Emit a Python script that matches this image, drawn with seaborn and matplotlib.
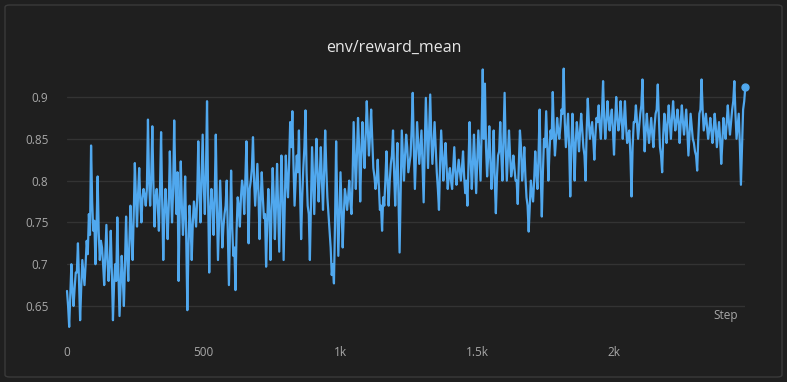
import numpy as np
import pandas as pd
import matplotlib
matplotlib.use("Agg")
import matplotlib.pyplot as plt
from matplotlib.patches import FancyBboxPatch
import seaborn as sns

# ---- data ----
# peaks/troughs sampled every 8 steps (steps 0, 8, 16, ...)
step_interval = 8
reward_part1 = [
    0.668, 0.625, 0.700, 0.650, 0.690, 0.725, 0.633, 0.705, 0.675, 0.728,
    0.760, 0.842, 0.740, 0.700, 0.805, 0.705, 0.720, 0.675, 0.747, 0.680,
    0.740, 0.633, 0.700, 0.756, 0.638, 0.710, 0.650, 0.757, 0.680, 0.770,
    0.705, 0.821, 0.745, 0.815, 0.750, 0.790, 0.770, 0.873, 0.770, 0.865,
    0.745, 0.790, 0.740, 0.858, 0.705, 0.790, 0.730, 0.835, 0.750, 0.872,
    0.760, 0.680,
]
reward_part2 = [
    0.823, 0.735, 0.805, 0.645, 0.770, 0.705, 0.775, 0.745, 0.847, 0.750,
    0.855, 0.760, 0.895, 0.690, 0.790, 0.735, 0.855, 0.705, 0.800, 0.720,
    0.760, 0.800, 0.675, 0.812, 0.710, 0.669, 0.780, 0.745, 0.800, 0.760,
    0.847, 0.725, 0.800, 0.852, 0.770, 0.820, 0.730, 0.810, 0.755, 0.697,
    0.790, 0.705, 0.815, 0.730, 0.820, 0.715, 0.830, 0.705, 0.830, 0.780,
    0.870, 0.883,
]
reward_part3 = [
    0.770, 0.830, 0.860, 0.730, 0.815, 0.884, 0.770, 0.705, 0.840, 0.760,
    0.850, 0.775, 0.840, 0.765, 0.860, 0.780, 0.740, 0.687, 0.677, 0.847,
    0.710, 0.810, 0.720, 0.790, 0.765, 0.800, 0.760, 0.870, 0.790, 0.875,
    0.775, 0.870, 0.815, 0.895, 0.830, 0.885, 0.815, 0.790, 0.825, 0.765,
    0.740, 0.770, 0.835, 0.770, 0.820, 0.860, 0.770, 0.845, 0.714, 0.860,
    0.800, 0.855,
]
reward_part4 = [
    0.810, 0.830, 0.905, 0.790, 0.870, 0.820, 0.860, 0.774, 0.899, 0.815,
    0.903, 0.820, 0.870, 0.810, 0.765, 0.860, 0.800, 0.845, 0.790, 0.815,
    0.790, 0.840, 0.795, 0.825, 0.800, 0.835, 0.785, 0.770, 0.870, 0.790,
    0.855, 0.785, 0.860, 0.800, 0.933, 0.916, 0.805, 0.865, 0.790, 0.860,
    0.761, 0.830, 0.870, 0.800, 0.905, 0.800, 0.860, 0.805, 0.830, 0.800,
    0.772, 0.860,
]
reward_part5 = [
    0.800, 0.840, 0.780, 0.739, 0.800, 0.775, 0.835, 0.790, 0.885, 0.757,
    0.850, 0.883, 0.800, 0.860, 0.906, 0.830, 0.875, 0.850, 0.885, 0.934,
    0.840, 0.880, 0.781, 0.880, 0.800, 0.870, 0.835, 0.880, 0.840, 0.800,
    0.898, 0.850, 0.870, 0.825, 0.875, 0.890, 0.850, 0.919, 0.850, 0.895,
    0.860, 0.885, 0.831, 0.900, 0.860, 0.895, 0.850, 0.895, 0.845, 0.860,
    0.781, 0.870,
]
reward_part6 = [
    0.890, 0.850, 0.880, 0.921, 0.835, 0.880, 0.845, 0.875, 0.840, 0.880,
    0.915, 0.840, 0.810, 0.880, 0.845, 0.890, 0.850, 0.895, 0.860, 0.885,
    0.845, 0.890, 0.855, 0.885, 0.830, 0.880, 0.850, 0.835, 0.812, 0.880,
    0.921, 0.860, 0.880, 0.850, 0.875, 0.845, 0.880, 0.840, 0.870, 0.820,
    0.875, 0.850, 0.890, 0.855, 0.885, 0.919, 0.850, 0.880, 0.795, 0.885,
    0.912,
]
# values of the dense band in between (steps 4, 12, 20, ...)
reward_mid1 = [
    0.650, 0.662, 0.668, 0.672, 0.690, 0.680, 0.672, 0.690, 0.700, 0.712,
    0.735, 0.775, 0.752, 0.745, 0.738, 0.728, 0.700, 0.712, 0.705, 0.700,
    0.690, 0.675, 0.680, 0.690, 0.675, 0.683, 0.700, 0.710, 0.725, 0.735,
    0.760, 0.780, 0.785, 0.775, 0.780, 0.782, 0.790, 0.800, 0.805, 0.795,
    0.780, 0.770, 0.790, 0.775, 0.760, 0.765, 0.770, 0.785, 0.790, 0.800,
    0.810, 0.765,
]
reward_mid2 = [
    0.770, 0.765, 0.730, 0.720, 0.745, 0.750, 0.760, 0.780, 0.790, 0.800,
    0.795, 0.810, 0.780, 0.765, 0.770, 0.780, 0.770, 0.755, 0.760, 0.745,
    0.770, 0.735, 0.740, 0.745, 0.720, 0.740, 0.770, 0.780, 0.790, 0.800,
    0.790, 0.790, 0.815, 0.800, 0.795, 0.785, 0.775, 0.780, 0.760, 0.750,
    0.760, 0.770, 0.780, 0.770, 0.765, 0.775, 0.780, 0.770, 0.800, 0.820,
    0.840, 0.820,
]
reward_mid3 = [
    0.800, 0.810, 0.790, 0.780, 0.840, 0.810, 0.760, 0.770, 0.800, 0.810,
    0.810, 0.805, 0.800, 0.810, 0.815, 0.760, 0.720, 0.700, 0.750, 0.770,
    0.760, 0.765, 0.760, 0.780, 0.780, 0.775, 0.800, 0.830, 0.830, 0.840,
    0.830, 0.840, 0.855, 0.860, 0.855, 0.850, 0.805, 0.800, 0.795, 0.770,
    0.780, 0.800, 0.800, 0.800, 0.830, 0.810, 0.810, 0.780, 0.790, 0.830,
    0.830, 0.840,
]
reward_mid4 = [
    0.820, 0.860, 0.840, 0.830, 0.845, 0.840, 0.815, 0.840, 0.855, 0.860,
    0.850, 0.845, 0.840, 0.790, 0.820, 0.830, 0.825, 0.815, 0.805, 0.800,
    0.815, 0.810, 0.810, 0.812, 0.815, 0.805, 0.800, 0.820, 0.825, 0.820,
    0.820, 0.825, 0.830, 0.860, 0.850, 0.840, 0.830, 0.825, 0.815, 0.800,
    0.805, 0.835, 0.830, 0.850, 0.840, 0.830, 0.830, 0.815, 0.815, 0.800,
    0.820, 0.840,
]
reward_mid5 = [
    0.815, 0.805, 0.770, 0.770, 0.785, 0.800, 0.810, 0.830, 0.810, 0.810,
    0.840, 0.840, 0.835, 0.850, 0.860, 0.850, 0.860, 0.865, 0.880, 0.870,
    0.860, 0.840, 0.840, 0.845, 0.845, 0.855, 0.860, 0.860, 0.830, 0.860,
    0.870, 0.860, 0.850, 0.855, 0.870, 0.865, 0.880, 0.875, 0.870, 0.875,
    0.875, 0.860, 0.870, 0.875, 0.870, 0.875, 0.870, 0.865, 0.855, 0.830,
    0.840, 0.870,
]
reward_mid6 = [
    0.870, 0.865, 0.890, 0.870, 0.860, 0.860, 0.860, 0.855, 0.865, 0.885,
    0.875, 0.830, 0.855, 0.865, 0.870, 0.870, 0.875, 0.875, 0.870, 0.870,
    0.870, 0.870, 0.870, 0.860, 0.855, 0.865, 0.845, 0.830, 0.850, 0.885,
    0.885, 0.870, 0.865, 0.860, 0.860, 0.860, 0.865, 0.855, 0.850, 0.845,
    0.860, 0.870, 0.870, 0.870, 0.895, 0.880, 0.865, 0.845, 0.840, 0.895,
]

x_ticks = [0, 500, 1000, 1500, 2000]
x_tick_labels = ["0", "500", "1k", "1.5k", "2k"]
y_ticks = [0.65, 0.7, 0.75, 0.8, 0.85, 0.9]
y_tick_labels = ["0.65", "0.7", "0.75", "0.8", "0.85", "0.9"]
title = "env/reward_mean"
x_label = "Step"

# ---- assemble the table ----
main_vals = (reward_part1 + reward_part2 + reward_part3 +
             reward_part4 + reward_part5 + reward_part6)
mid_vals = (reward_mid1 + reward_mid2 + reward_mid3 +
            reward_mid4 + reward_mid5 + reward_mid6)
steps, rewards = [], []
for i, v in enumerate(main_vals):
    steps.append(i * step_interval)
    rewards.append(v)
    if i < len(mid_vals):
        steps.append(i * step_interval + step_interval // 2)
        rewards.append(mid_vals[i])
df = pd.DataFrame({"Step": steps, "reward": rewards})

# ---- style ----
BG = "#1f1f1f"
GRID = "#333333"
TXT = "#a8a8a8"
LINE = "#50a8ee"

sns.set_style("dark")
plt.rcParams["font.family"] = ["Open Sans", "DejaVu Sans"]

W, H = 787, 382
fig = plt.figure(figsize=(W / 100, H / 100), dpi=100, facecolor=BG)

border = FancyBboxPatch((5 / W, 5 / H), (W - 10) / W, (H - 10) / H,
                        boxstyle="round,pad=0,rounding_size=0.006",
                        transform=fig.transFigure, facecolor="none",
                        edgecolor="#3a3a3a", linewidth=1.0, zorder=-1)
fig.patches.append(border)

ax_left, ax_right, ax_top, ax_bottom = 67, 745.3, 65, 333
ax = fig.add_axes([ax_left / W, 1 - ax_bottom / H,
                   (ax_right - ax_left) / W, (ax_bottom - ax_top) / H])
ax.set_facecolor("none")

sns.lineplot(data=df, x="Step", y="reward", ax=ax, color=LINE,
             linewidth=1.6, estimator=None, clip_on=False)
ax.plot([steps[-1]], [rewards[-1]], "o", color=LINE, markersize=5,
        clip_on=False, zorder=5)

ax.set_xlim(0, 2480)
ax.set_ylim(0.6177, 0.9383)

ax.set_yticks(y_ticks)
ax.set_yticklabels(y_tick_labels)
ax.set_xticks(x_ticks)
ax.set_xticklabels(x_tick_labels)

ax.grid(False)
for yv in y_ticks:
    ax.axhline(yv, color=GRID, linewidth=1.0, zorder=0)

for s in ax.spines.values():
    s.set_visible(False)

ax.tick_params(axis="y", length=0, pad=13.5, labelsize=8.5, labelcolor=TXT)
ax.tick_params(axis="x", direction="in", length=10, width=1.0, color="#3c3c3c",
               pad=9, labelsize=8.5, labelcolor=TXT)
ax.set_xlabel("")
ax.set_ylabel("")

fig.text(393.5 / W, 1 - 48 / H, title, ha="center", va="center",
         color="#e6e6e6", fontsize=11.5)
fig.text(726 / W, 1 - 315 / H, x_label, ha="center", va="center",
         color=TXT, fontsize=8.5)

fig.savefig("out.png", dpi=100, facecolor=BG)
